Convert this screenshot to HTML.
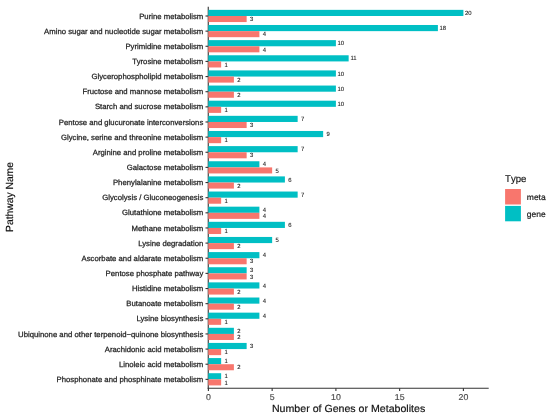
<!DOCTYPE html>
<html><head><meta charset="utf-8"><title>Pathway chart</title>
<style>html,body{margin:0;padding:0;background:#fff}svg{display:block}text{text-rendering:geometricPrecision;font-family:"Liberation Sans",sans-serif}</style></head>
<body>
<svg width="550" height="417" viewBox="0 0 550 417">
<rect width="550" height="417" fill="#ffffff"/>
<g stroke="#333333" stroke-width="1.1" fill="none">
<line x1="208.25" y1="6.7" x2="208.25" y2="388.75"/>
<line x1="207.70000000000002" y1="388.2" x2="488.7" y2="388.2"/>
<line x1="205.5" y1="16.00" x2="208.4" y2="16.00"/>
<line x1="205.5" y1="31.14" x2="208.4" y2="31.14"/>
<line x1="205.5" y1="46.28" x2="208.4" y2="46.28"/>
<line x1="205.5" y1="61.42" x2="208.4" y2="61.42"/>
<line x1="205.5" y1="76.56" x2="208.4" y2="76.56"/>
<line x1="205.5" y1="91.70" x2="208.4" y2="91.70"/>
<line x1="205.5" y1="106.84" x2="208.4" y2="106.84"/>
<line x1="205.5" y1="121.98" x2="208.4" y2="121.98"/>
<line x1="205.5" y1="137.12" x2="208.4" y2="137.12"/>
<line x1="205.5" y1="152.26" x2="208.4" y2="152.26"/>
<line x1="205.5" y1="167.40" x2="208.4" y2="167.40"/>
<line x1="205.5" y1="182.54" x2="208.4" y2="182.54"/>
<line x1="205.5" y1="197.68" x2="208.4" y2="197.68"/>
<line x1="205.5" y1="212.82" x2="208.4" y2="212.82"/>
<line x1="205.5" y1="227.96" x2="208.4" y2="227.96"/>
<line x1="205.5" y1="243.10" x2="208.4" y2="243.10"/>
<line x1="205.5" y1="258.24" x2="208.4" y2="258.24"/>
<line x1="205.5" y1="273.38" x2="208.4" y2="273.38"/>
<line x1="205.5" y1="288.52" x2="208.4" y2="288.52"/>
<line x1="205.5" y1="303.66" x2="208.4" y2="303.66"/>
<line x1="205.5" y1="318.80" x2="208.4" y2="318.80"/>
<line x1="205.5" y1="333.94" x2="208.4" y2="333.94"/>
<line x1="205.5" y1="349.08" x2="208.4" y2="349.08"/>
<line x1="205.5" y1="364.22" x2="208.4" y2="364.22"/>
<line x1="205.5" y1="379.36" x2="208.4" y2="379.36"/>
<line x1="208.40" y1="388.2" x2="208.40" y2="390.9"/>
<line x1="272.15" y1="388.2" x2="272.15" y2="390.9"/>
<line x1="335.90" y1="388.2" x2="335.90" y2="390.9"/>
<line x1="399.65" y1="388.2" x2="399.65" y2="390.9"/>
<line x1="463.40" y1="388.2" x2="463.40" y2="390.9"/>
</g>
<g>
<rect x="208.3" y="9.85" width="255.10" height="6.15" fill="#00BFC4"/>
<rect x="208.3" y="16.00" width="38.35" height="6.05" fill="#F8766D"/>
<rect x="208.3" y="24.99" width="229.60" height="6.15" fill="#00BFC4"/>
<rect x="208.3" y="31.14" width="51.10" height="6.05" fill="#F8766D"/>
<rect x="208.3" y="40.13" width="127.60" height="6.15" fill="#00BFC4"/>
<rect x="208.3" y="46.28" width="51.10" height="6.05" fill="#F8766D"/>
<rect x="208.3" y="55.27" width="140.35" height="6.15" fill="#00BFC4"/>
<rect x="208.3" y="61.42" width="12.85" height="6.05" fill="#F8766D"/>
<rect x="208.3" y="70.41" width="127.60" height="6.15" fill="#00BFC4"/>
<rect x="208.3" y="76.56" width="25.60" height="6.05" fill="#F8766D"/>
<rect x="208.3" y="85.55" width="127.60" height="6.15" fill="#00BFC4"/>
<rect x="208.3" y="91.70" width="25.60" height="6.05" fill="#F8766D"/>
<rect x="208.3" y="100.69" width="127.60" height="6.15" fill="#00BFC4"/>
<rect x="208.3" y="106.84" width="12.85" height="6.05" fill="#F8766D"/>
<rect x="208.3" y="115.83" width="89.35" height="6.15" fill="#00BFC4"/>
<rect x="208.3" y="121.98" width="38.35" height="6.05" fill="#F8766D"/>
<rect x="208.3" y="130.97" width="114.85" height="6.15" fill="#00BFC4"/>
<rect x="208.3" y="137.12" width="12.85" height="6.05" fill="#F8766D"/>
<rect x="208.3" y="146.11" width="89.35" height="6.15" fill="#00BFC4"/>
<rect x="208.3" y="152.26" width="38.35" height="6.05" fill="#F8766D"/>
<rect x="208.3" y="161.25" width="51.10" height="6.15" fill="#00BFC4"/>
<rect x="208.3" y="167.40" width="63.85" height="6.05" fill="#F8766D"/>
<rect x="208.3" y="176.39" width="76.60" height="6.15" fill="#00BFC4"/>
<rect x="208.3" y="182.54" width="25.60" height="6.05" fill="#F8766D"/>
<rect x="208.3" y="191.53" width="89.35" height="6.15" fill="#00BFC4"/>
<rect x="208.3" y="197.68" width="12.85" height="6.05" fill="#F8766D"/>
<rect x="208.3" y="206.67" width="51.10" height="6.15" fill="#00BFC4"/>
<rect x="208.3" y="212.82" width="51.10" height="6.05" fill="#F8766D"/>
<rect x="208.3" y="221.81" width="76.60" height="6.15" fill="#00BFC4"/>
<rect x="208.3" y="227.96" width="12.85" height="6.05" fill="#F8766D"/>
<rect x="208.3" y="236.95" width="63.85" height="6.15" fill="#00BFC4"/>
<rect x="208.3" y="243.10" width="25.60" height="6.05" fill="#F8766D"/>
<rect x="208.3" y="252.09" width="51.10" height="6.15" fill="#00BFC4"/>
<rect x="208.3" y="258.24" width="38.35" height="6.05" fill="#F8766D"/>
<rect x="208.3" y="267.23" width="38.35" height="6.15" fill="#00BFC4"/>
<rect x="208.3" y="273.38" width="38.35" height="6.05" fill="#F8766D"/>
<rect x="208.3" y="282.37" width="51.10" height="6.15" fill="#00BFC4"/>
<rect x="208.3" y="288.52" width="25.60" height="6.05" fill="#F8766D"/>
<rect x="208.3" y="297.51" width="51.10" height="6.15" fill="#00BFC4"/>
<rect x="208.3" y="303.66" width="25.60" height="6.05" fill="#F8766D"/>
<rect x="208.3" y="312.65" width="51.10" height="6.15" fill="#00BFC4"/>
<rect x="208.3" y="318.80" width="12.85" height="6.05" fill="#F8766D"/>
<rect x="208.3" y="327.79" width="25.60" height="6.15" fill="#00BFC4"/>
<rect x="208.3" y="333.94" width="25.60" height="6.05" fill="#F8766D"/>
<rect x="208.3" y="342.93" width="38.35" height="6.15" fill="#00BFC4"/>
<rect x="208.3" y="349.08" width="12.85" height="6.05" fill="#F8766D"/>
<rect x="208.3" y="358.07" width="12.85" height="6.15" fill="#00BFC4"/>
<rect x="208.3" y="364.22" width="25.60" height="6.05" fill="#F8766D"/>
<rect x="208.3" y="373.21" width="12.85" height="6.15" fill="#00BFC4"/>
<rect x="208.3" y="379.36" width="12.85" height="6.05" fill="#F8766D"/>
</g>
<g font-size="6.1" fill="#222222" stroke="#222222" stroke-width="0.1" text-anchor="middle">
<text transform="translate(468.30,14.97) scale(0.97,1)">20</text>
<text transform="translate(251.55,21.22) scale(0.97,1)">3</text>
<text transform="translate(442.80,30.12) scale(0.97,1)">18</text>
<text transform="translate(264.30,36.37) scale(0.97,1)">4</text>
<text transform="translate(340.80,45.26) scale(0.97,1)">10</text>
<text transform="translate(264.30,51.51) scale(0.97,1)">4</text>
<text transform="translate(353.55,60.40) scale(0.97,1)">11</text>
<text transform="translate(226.05,66.65) scale(0.97,1)">1</text>
<text transform="translate(340.80,75.53) scale(0.97,1)">10</text>
<text transform="translate(238.80,81.79) scale(0.97,1)">2</text>
<text transform="translate(340.80,90.67) scale(0.97,1)">10</text>
<text transform="translate(238.80,96.93) scale(0.97,1)">2</text>
<text transform="translate(340.80,105.81) scale(0.97,1)">10</text>
<text transform="translate(226.05,112.07) scale(0.97,1)">1</text>
<text transform="translate(302.55,120.95) scale(0.97,1)">7</text>
<text transform="translate(251.55,127.21) scale(0.97,1)">3</text>
<text transform="translate(328.05,136.09) scale(0.97,1)">9</text>
<text transform="translate(226.05,142.34) scale(0.97,1)">1</text>
<text transform="translate(302.55,151.23) scale(0.97,1)">7</text>
<text transform="translate(251.55,157.48) scale(0.97,1)">3</text>
<text transform="translate(264.30,166.38) scale(0.97,1)">4</text>
<text transform="translate(277.05,172.62) scale(0.97,1)">5</text>
<text transform="translate(289.80,181.52) scale(0.97,1)">6</text>
<text transform="translate(238.80,187.77) scale(0.97,1)">2</text>
<text transform="translate(302.55,196.66) scale(0.97,1)">7</text>
<text transform="translate(226.05,202.91) scale(0.97,1)">1</text>
<text transform="translate(264.30,211.79) scale(0.97,1)">4</text>
<text transform="translate(264.30,218.04) scale(0.97,1)">4</text>
<text transform="translate(289.80,226.94) scale(0.97,1)">6</text>
<text transform="translate(226.05,233.19) scale(0.97,1)">1</text>
<text transform="translate(277.05,242.08) scale(0.97,1)">5</text>
<text transform="translate(238.80,248.33) scale(0.97,1)">2</text>
<text transform="translate(264.30,257.22) scale(0.97,1)">4</text>
<text transform="translate(251.55,263.46) scale(0.97,1)">3</text>
<text transform="translate(251.55,272.36) scale(0.97,1)">3</text>
<text transform="translate(251.55,278.60) scale(0.97,1)">3</text>
<text transform="translate(264.30,287.50) scale(0.97,1)">4</text>
<text transform="translate(238.80,293.74) scale(0.97,1)">2</text>
<text transform="translate(264.30,302.64) scale(0.97,1)">4</text>
<text transform="translate(238.80,308.88) scale(0.97,1)">2</text>
<text transform="translate(264.30,317.78) scale(0.97,1)">4</text>
<text transform="translate(226.05,324.02) scale(0.97,1)">1</text>
<text transform="translate(238.80,332.92) scale(0.97,1)">2</text>
<text transform="translate(238.80,339.16) scale(0.97,1)">2</text>
<text transform="translate(251.55,348.06) scale(0.97,1)">3</text>
<text transform="translate(226.05,354.31) scale(0.97,1)">1</text>
<text transform="translate(226.05,363.20) scale(0.97,1)">1</text>
<text transform="translate(238.80,369.44) scale(0.97,1)">2</text>
<text transform="translate(226.05,378.34) scale(0.97,1)">1</text>
<text transform="translate(226.05,384.58) scale(0.97,1)">1</text>
</g>
<g font-size="7.62" fill="#222222" stroke="#222222" stroke-width="0.25" text-anchor="end">
<text transform="translate(203.3,18.60) scale(1.017,1)">Purine metabolism</text>
<text transform="translate(203.3,33.74) scale(1.017,1)">Amino sugar and nucleotide sugar metabolism</text>
<text transform="translate(203.3,48.88) scale(1.017,1)">Pyrimidine metabolism</text>
<text transform="translate(203.3,64.02) scale(1.017,1)">Tyrosine metabolism</text>
<text transform="translate(203.3,79.16) scale(1.017,1)">Glycerophospholipid metabolism</text>
<text transform="translate(203.3,94.30) scale(1.017,1)">Fructose and mannose metabolism</text>
<text transform="translate(203.3,109.44) scale(1.017,1)">Starch and sucrose metabolism</text>
<text transform="translate(203.3,124.58) scale(1.017,1)">Pentose and glucuronate interconversions</text>
<text transform="translate(203.3,139.72) scale(1.017,1)">Glycine, serine and threonine metabolism</text>
<text transform="translate(203.3,154.86) scale(1.017,1)">Arginine and proline metabolism</text>
<text transform="translate(203.3,170.00) scale(1.017,1)">Galactose metabolism</text>
<text transform="translate(203.3,185.14) scale(1.017,1)">Phenylalanine metabolism</text>
<text transform="translate(203.3,200.28) scale(1.017,1)">Glycolysis / Gluconeogenesis</text>
<text transform="translate(203.3,215.42) scale(1.017,1)">Glutathione metabolism</text>
<text transform="translate(203.3,230.56) scale(1.017,1)">Methane metabolism</text>
<text transform="translate(203.3,245.70) scale(1.017,1)">Lysine degradation</text>
<text transform="translate(203.3,260.84) scale(1.017,1)">Ascorbate and aldarate metabolism</text>
<text transform="translate(203.3,275.98) scale(1.017,1)">Pentose phosphate pathway</text>
<text transform="translate(203.3,291.12) scale(1.017,1)">Histidine metabolism</text>
<text transform="translate(203.3,306.26) scale(1.017,1)">Butanoate metabolism</text>
<text transform="translate(203.3,321.40) scale(1.017,1)">Lysine biosynthesis</text>
<text transform="translate(203.3,336.54) scale(1.017,1)">Ubiquinone and other terpenoid−quinone biosynthesis</text>
<text transform="translate(203.3,351.68) scale(1.017,1)">Arachidonic acid metabolism</text>
<text transform="translate(203.3,366.82) scale(1.017,1)">Linoleic acid metabolism</text>
<text transform="translate(203.3,381.96) scale(1.017,1)">Phosphonate and phosphinate metabolism</text>
</g>
<g font-size="8.5" fill="#4d4d4d" stroke="#4d4d4d" stroke-width="0.18" text-anchor="middle">
<text transform="translate(208.40,399.60) scale(1.03,1)">0</text>
<text transform="translate(272.15,399.60) scale(1.03,1)">5</text>
<text transform="translate(335.90,399.60) scale(1.03,1)">10</text>
<text transform="translate(399.65,399.60) scale(1.03,1)">15</text>
<text transform="translate(463.40,399.60) scale(1.03,1)">20</text>
</g>
<g font-size="10.3" fill="#111111" stroke="#111111" stroke-width="0.18" text-anchor="middle">
<text transform="translate(348.60,411.65) scale(1.03,1)">Number of Genes or Metabolites</text>
<text transform="translate(13.3,197.0) rotate(-90)">Pathway Name</text>
</g>
<text transform="translate(505.1,181.6) scale(0.98,1)" font-size="9.8" fill="#111111" stroke="#111111" stroke-width="0.15" style="font-kerning:none">Type</text>
<rect x="505.1" y="189.0" width="15.8" height="15.5" fill="#F8766D"/>
<rect x="505.1" y="205.9" width="15.8" height="15.4" fill="#00BFC4"/>
<g font-size="8.25" fill="#1a1a1a" stroke="#1a1a1a" stroke-width="0.2">
<text transform="translate(526.80,199.80) scale(1.03,1)">meta</text>
<text transform="translate(526.80,216.60) scale(1.03,1)">gene</text>
</g>
</svg>
</body></html>
